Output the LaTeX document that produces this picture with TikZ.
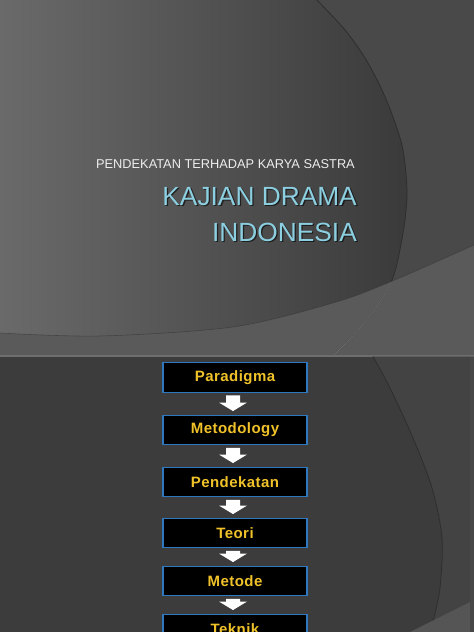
\documentclass[tikz,border=0pt]{standalone}
\usepackage{fontspec}
\setmainfont{Liberation Sans}
\usetikzlibrary{calc}
\definecolor{sAright}{HTML}{3A3A3A}
\definecolor{sAleft}{HTML}{6A6A6A}
\definecolor{sBbg}{HTML}{494949}
\definecolor{bandcol}{HTML}{5A5A5A}
\definecolor{arcdark}{HTML}{2E2E2E}
\definecolor{arclight}{HTML}{6C6C6C}
\definecolor{stwobg}{HTML}{3C3C3C}
\definecolor{stworight}{HTML}{434343}
\definecolor{dividercol}{HTML}{6E6E6E}
\definecolor{cornercol}{HTML}{555555}
\definecolor{edgecol}{HTML}{474747}
\definecolor{boxblue}{HTML}{2F78C0}
\definecolor{boxgold}{HTML}{F0C22A}
\definecolor{titleblue}{HTML}{8CCFE0}
\definecolor{subgray}{HTML}{EDEDED}
\tikzset{
  stepbox/.style={draw=boxblue, line width=1.4pt, fill=black, minimum width=144pt, minimum height=29.5pt, inner sep=0pt,
    text=boxgold, font=\fontsize{15}{17}\selectfont\bfseries\addfontfeature{LetterSpace=3}},
  blockarrow/.style={fill=white},
  titletext/.style={anchor=base east, text=titleblue, font=\fontsize{26.3}{30}\selectfont, inner sep=0pt},
  titleshadow/.style={anchor=base east, text=black, opacity=0.6, font=\fontsize{26.3}{30}\selectfont, inner sep=0pt},
  subtext/.style={anchor=base east, text=subgray, font=\fontsize{12.8}{14}\selectfont, inner sep=0pt}
}
\newcommand\flowarrow[2]{%
  \path[blockarrow] let \p1=(#1.south), \p2=(#2.north) in
    (\x1-9pt,\y1-2.5pt) -- (\x1+5pt,\y1-2.5pt) -- (\x1+5pt,\y2+12pt) -- (\x1+12pt,\y2+12pt)
    -- (\x1-2pt,\y2+3.5pt) -- (\x1-16pt,\y2+12pt) -- (\x1-9pt,\y2+12pt) -- cycle;}
\begin{document}
\begin{tikzpicture}[x=1pt,y=-1pt]
\useasboundingbox (0,0) rectangle (474,632);
% ---------- slide 1 ----------
\fill[sBbg] (0,0) rectangle (474,356);
\begin{scope}
  \clip (0,0) -- plot[smooth] coordinates {(317,0) (345,30) (365,58) (381,88) (393,117) (403,150) (407,193) (403,233) (392,280) (367,320) (333,356)} -- (0,356) -- cycle;
  \shade[left color=sAleft, right color=sAright] (0,0) rectangle (410,356);
\end{scope}
\fill[bandcol] (0,333) -- plot[smooth] coordinates {(0,333) (100,336) (233,327) (333,303) (390,282) (474,245)} -- (474,356) -- (0,356) -- cycle;
\draw[arcdark, line width=0.8pt] plot[smooth] coordinates {(317,0) (345,30) (365,58) (381,88) (393,117) (403,150) (407,193) (403,233) (392,280) (367,320) (333,356)};
\begin{scope}
  \clip (0,333) -- plot[smooth] coordinates {(0,333) (100,336) (233,327) (333,303) (390,282) (474,245)} -- (474,356) -- (0,356) -- cycle;
  \draw[arclight, line width=0.8pt] plot[smooth] coordinates {(317,0) (345,30) (365,58) (381,88) (393,117) (403,150) (407,193) (403,233) (392,280) (367,320) (333,356)};
\end{scope}
\draw[arcdark, opacity=0.5, line width=0.6pt] plot[smooth] coordinates {(0,333) (100,336) (233,327) (333,303) (390,282) (474,245)};
\node[subtext] (sub) at (355,168) {PENDEKATAN TERHADAP KARYA SASTRA};
\node[titleshadow] at (358.3,206.3) {KAJIAN DRAMA};
\node[titletext] (t1) at (357,205) {KAJIAN DRAMA};
\node[titleshadow] at (358.3,242.3) {INDONESIA};
\node[titletext] (t2) at (357,241) {INDONESIA};
% divider
\fill[dividercol] (0,354.5) rectangle (474,356.5);
% ---------- slide 2 ----------
\fill[stwobg] (0,356.5) rectangle (474,632);
\fill[stworight] (373,356.5) -- plot[smooth] coordinates {(373,356.5) (390,388) (413,438) (432,488) (442,538) (440,588) (433,622) (431,632)} -- (474,632) -- (474,356.5) -- cycle;
\draw[arcdark, line width=0.8pt] plot[smooth] coordinates {(373,356.5) (390,388) (413,438) (432,488) (442,538) (440,588) (433,622) (431,632)};
\fill[cornercol] (410,632) -- (474,600) -- (474,632) -- cycle;
\fill[edgecol] (470,356.5) rectangle (474,632);
% boxes
\node[stepbox] (p1) at (235,377.5) {Paradigma};
\node[stepbox] (p2) at (235,430) {Metodology};
\node[stepbox] (p3) at (235,482) {Pendekatan};
\node[stepbox] (p4) at (235,533) {Teori};
\node[stepbox] (p5) at (235,581) {Metode};
\node[stepbox] (p6) at (235,629) {Teknik};
\flowarrow{p1}{p2}
\flowarrow{p2}{p3}
\flowarrow{p3}{p4}
\flowarrow{p4}{p5}
\flowarrow{p5}{p6}
\end{tikzpicture}
\end{document}
